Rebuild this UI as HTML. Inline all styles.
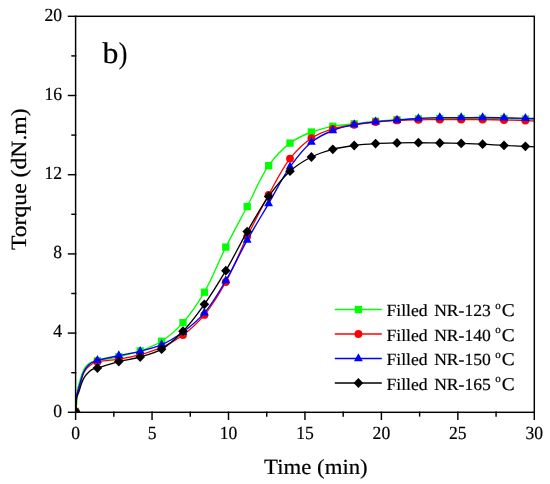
<!DOCTYPE html>
<html><head><meta charset="utf-8"><title>Torque vs Time</title>
<style>html,body{margin:0;padding:0;background:#fff;width:550px;height:484px;overflow:hidden}svg{display:block}</style>
</head><body>
<svg width="550" height="484" viewBox="0 0 550 484" style="text-rendering:geometricPrecision">
<rect width="550" height="484" fill="#fff"/>
<defs><clipPath id="pa"><rect x="75.6" y="16.3" width="458.7" height="396"/></clipPath></defs>
<g clip-path="url(#pa)">
<path fill="none" stroke-width="1.35" stroke="#00ff00" d="M75.60,411.40 C75.97,408.77 76.49,405.84 76.70,403.50 C76.87,401.65 76.83,400.12 76.90,398.50 C76.97,396.96 77.00,395.45 77.10,394.00 C77.20,392.63 77.26,391.40 77.50,390.00 C77.77,388.42 78.25,386.74 78.70,385.00 C79.20,383.09 79.80,380.98 80.40,379.00 C81.00,377.04 81.58,375.04 82.30,373.20 C82.99,371.45 83.67,369.69 84.60,368.20 C85.46,366.81 86.47,365.50 87.60,364.50 C88.65,363.57 89.93,362.80 91.10,362.30 C92.13,361.86 93.16,361.75 94.20,361.50 C95.26,361.25 95.86,361.11 97.40,360.80 C101.37,359.99 111.70,358.44 118.80,356.80 C125.97,355.14 133.17,353.45 140.20,350.90 C147.44,348.28 154.77,345.58 161.60,341.20 C169.10,336.39 176.29,330.04 183.00,322.60 C190.69,314.09 197.72,303.65 204.40,292.20 C212.14,278.93 218.51,261.66 225.80,247.10 C232.79,233.14 240.08,220.06 247.20,206.50 C254.34,192.90 260.61,176.77 268.60,165.60 C275.16,156.44 282.36,148.85 290.00,143.10 C296.74,138.04 304.11,134.82 311.40,132.00 C318.39,129.29 325.62,127.67 332.80,126.30 C339.88,124.95 347.07,124.65 354.20,123.80 C361.33,122.95 368.46,121.90 375.60,121.20 C382.73,120.50 389.86,119.98 397.00,119.60 C404.13,119.22 411.27,119.08 418.40,118.90 C425.53,118.72 432.67,118.58 439.80,118.50 C446.93,118.42 454.07,118.43 461.20,118.40 C468.33,118.38 475.47,118.32 482.60,118.35 C489.73,118.38 496.87,118.48 504.00,118.60 C511.13,118.73 519.81,118.97 525.40,119.10 C529.01,119.18 531.33,119.23 534.30,119.30"/>
<g><rect x="71.95" y="407.75" width="7.3" height="7.3" fill="#00ff00"/><rect x="93.75" y="357.15" width="7.3" height="7.3" fill="#00ff00"/><rect x="115.15" y="353.15" width="7.3" height="7.3" fill="#00ff00"/><rect x="136.55" y="347.25" width="7.3" height="7.3" fill="#00ff00"/><rect x="157.95" y="337.55" width="7.3" height="7.3" fill="#00ff00"/><rect x="179.35" y="318.95" width="7.3" height="7.3" fill="#00ff00"/><rect x="200.75" y="288.55" width="7.3" height="7.3" fill="#00ff00"/><rect x="222.15" y="243.45" width="7.3" height="7.3" fill="#00ff00"/><rect x="243.55" y="202.85" width="7.3" height="7.3" fill="#00ff00"/><rect x="264.95" y="161.95" width="7.3" height="7.3" fill="#00ff00"/><rect x="286.35" y="139.45" width="7.3" height="7.3" fill="#00ff00"/><rect x="307.75" y="128.35" width="7.3" height="7.3" fill="#00ff00"/><rect x="329.15" y="122.65" width="7.3" height="7.3" fill="#00ff00"/><rect x="350.55" y="120.15" width="7.3" height="7.3" fill="#00ff00"/><rect x="371.95" y="117.55" width="7.3" height="7.3" fill="#00ff00"/><rect x="393.35" y="115.95" width="7.3" height="7.3" fill="#00ff00"/><rect x="414.75" y="115.25" width="7.3" height="7.3" fill="#00ff00"/><rect x="436.15" y="114.85" width="7.3" height="7.3" fill="#00ff00"/><rect x="457.55" y="114.75" width="7.3" height="7.3" fill="#00ff00"/><rect x="478.95" y="114.70" width="7.3" height="7.3" fill="#00ff00"/><rect x="500.35" y="114.95" width="7.3" height="7.3" fill="#00ff00"/><rect x="521.75" y="115.45" width="7.3" height="7.3" fill="#00ff00"/></g>
<path fill="none" stroke-width="1.35" stroke="#ff0000" d="M75.60,411.40 C75.70,408.27 75.70,404.61 75.90,402.00 C76.05,400.13 76.24,398.66 76.50,397.20 C76.72,395.96 77.00,394.93 77.30,393.80 C77.60,392.66 77.94,391.64 78.30,390.40 C78.73,388.92 79.21,387.21 79.70,385.50 C80.24,383.62 80.79,381.53 81.40,379.60 C82.00,377.70 82.53,375.72 83.30,374.00 C84.01,372.41 84.86,370.88 85.80,369.60 C86.65,368.45 87.61,367.50 88.60,366.60 C89.55,365.74 90.61,364.97 91.60,364.30 C92.51,363.69 93.34,363.13 94.30,362.70 C95.27,362.26 95.88,362.03 97.40,361.70 C101.31,360.85 111.69,360.38 118.80,359.20 C125.96,358.01 133.12,356.56 140.20,354.60 C147.39,352.61 154.62,350.46 161.60,347.30 C168.90,344.00 176.15,340.08 183.00,335.00 C190.47,329.46 197.71,322.89 204.40,314.90 C212.13,305.66 219.06,294.11 225.80,282.00 C233.43,268.30 239.93,251.26 247.20,236.50 C254.21,222.26 261.27,208.19 268.60,194.90 C275.56,182.28 282.11,168.53 290.00,158.60 C296.61,150.28 303.79,143.25 311.40,138.20 C318.16,133.72 325.54,131.14 332.80,128.90 C339.82,126.73 347.05,125.95 354.20,124.80 C361.32,123.65 368.46,122.73 375.60,122.00 C382.72,121.27 389.86,120.77 397.00,120.40 C404.13,120.03 411.27,119.93 418.40,119.80 C425.53,119.67 432.67,119.65 439.80,119.60 C446.93,119.55 454.07,119.50 461.20,119.50 C468.33,119.50 475.47,119.52 482.60,119.60 C489.73,119.68 496.87,119.85 504.00,120.00 C511.13,120.15 519.81,120.28 525.40,120.50 C529.01,120.64 531.33,120.83 534.30,121.00"/>
<g><circle cx="75.60" cy="411.40" r="3.9" fill="#ff0000"/><circle cx="97.40" cy="361.70" r="3.9" fill="#ff0000"/><circle cx="118.80" cy="359.20" r="3.9" fill="#ff0000"/><circle cx="140.20" cy="354.60" r="3.9" fill="#ff0000"/><circle cx="161.60" cy="347.30" r="3.9" fill="#ff0000"/><circle cx="183.00" cy="335.00" r="3.9" fill="#ff0000"/><circle cx="204.40" cy="314.90" r="3.9" fill="#ff0000"/><circle cx="225.80" cy="282.00" r="3.9" fill="#ff0000"/><circle cx="247.20" cy="236.50" r="3.9" fill="#ff0000"/><circle cx="268.60" cy="194.90" r="3.9" fill="#ff0000"/><circle cx="290.00" cy="158.60" r="3.9" fill="#ff0000"/><circle cx="311.40" cy="138.20" r="3.9" fill="#ff0000"/><circle cx="332.80" cy="128.90" r="3.9" fill="#ff0000"/><circle cx="354.20" cy="124.80" r="3.9" fill="#ff0000"/><circle cx="375.60" cy="122.00" r="3.9" fill="#ff0000"/><circle cx="397.00" cy="120.40" r="3.9" fill="#ff0000"/><circle cx="418.40" cy="119.80" r="3.9" fill="#ff0000"/><circle cx="439.80" cy="119.60" r="3.9" fill="#ff0000"/><circle cx="461.20" cy="119.50" r="3.9" fill="#ff0000"/><circle cx="482.60" cy="119.60" r="3.9" fill="#ff0000"/><circle cx="504.00" cy="120.00" r="3.9" fill="#ff0000"/><circle cx="525.40" cy="120.50" r="3.9" fill="#ff0000"/></g>
<path fill="none" stroke-width="1.35" stroke="#0000ff" d="M75.60,411.40 C75.70,408.27 75.73,404.64 75.90,402.00 C76.03,400.07 76.15,398.51 76.40,397.00 C76.61,395.72 76.90,394.66 77.20,393.50 C77.50,392.33 77.84,391.27 78.20,390.00 C78.63,388.48 79.11,386.74 79.60,385.00 C80.14,383.09 80.70,380.98 81.30,379.00 C81.90,377.04 82.44,374.99 83.20,373.20 C83.90,371.55 84.69,369.98 85.60,368.60 C86.44,367.33 87.38,366.19 88.40,365.20 C89.36,364.27 90.47,363.44 91.50,362.80 C92.40,362.24 93.25,361.89 94.20,361.50 C95.21,361.09 95.84,360.84 97.40,360.40 C101.36,359.27 111.65,357.02 118.80,355.50 C125.92,353.99 133.11,353.08 140.20,351.30 C147.38,349.49 154.64,347.78 161.60,344.70 C168.93,341.45 176.10,337.05 183.00,332.00 C190.41,326.58 197.73,320.61 204.40,312.90 C212.16,303.94 218.94,292.15 225.80,280.60 C233.25,268.06 239.93,253.26 247.20,240.20 C254.20,227.62 261.47,215.81 268.60,203.60 C275.74,191.38 282.33,177.62 290.00,166.90 C296.72,157.50 303.66,148.44 311.40,142.20 C318.08,136.81 325.49,133.44 332.80,130.50 C339.77,127.70 347.02,126.15 354.20,124.70 C361.29,123.27 368.46,122.58 375.60,121.80 C382.72,121.02 389.86,120.55 397.00,120.00 C404.13,119.45 411.26,118.88 418.40,118.50 C425.53,118.12 432.67,117.83 439.80,117.70 C446.93,117.57 454.07,117.73 461.20,117.70 C468.33,117.67 475.47,117.48 482.60,117.50 C489.73,117.52 496.87,117.65 504.00,117.80 C511.13,117.95 519.81,118.29 525.40,118.40 C529.01,118.47 531.33,118.47 534.30,118.50"/>
<g><path d="M75.60,406.07L80.00,414.07L71.20,414.07Z" fill="#0000ff"/><path d="M97.40,355.07L101.80,363.07L93.00,363.07Z" fill="#0000ff"/><path d="M118.80,350.17L123.20,358.17L114.40,358.17Z" fill="#0000ff"/><path d="M140.20,345.97L144.60,353.97L135.80,353.97Z" fill="#0000ff"/><path d="M161.60,339.37L166.00,347.37L157.20,347.37Z" fill="#0000ff"/><path d="M183.00,326.67L187.40,334.67L178.60,334.67Z" fill="#0000ff"/><path d="M204.40,307.57L208.80,315.57L200.00,315.57Z" fill="#0000ff"/><path d="M225.80,275.27L230.20,283.27L221.40,283.27Z" fill="#0000ff"/><path d="M247.20,234.87L251.60,242.87L242.80,242.87Z" fill="#0000ff"/><path d="M268.60,198.27L273.00,206.27L264.20,206.27Z" fill="#0000ff"/><path d="M290.00,161.57L294.40,169.57L285.60,169.57Z" fill="#0000ff"/><path d="M311.40,136.87L315.80,144.87L307.00,144.87Z" fill="#0000ff"/><path d="M332.80,125.17L337.20,133.17L328.40,133.17Z" fill="#0000ff"/><path d="M354.20,119.37L358.60,127.37L349.80,127.37Z" fill="#0000ff"/><path d="M375.60,116.47L380.00,124.47L371.20,124.47Z" fill="#0000ff"/><path d="M397.00,114.67L401.40,122.67L392.60,122.67Z" fill="#0000ff"/><path d="M418.40,113.17L422.80,121.17L414.00,121.17Z" fill="#0000ff"/><path d="M439.80,112.37L444.20,120.37L435.40,120.37Z" fill="#0000ff"/><path d="M461.20,112.37L465.60,120.37L456.80,120.37Z" fill="#0000ff"/><path d="M482.60,112.17L487.00,120.17L478.20,120.17Z" fill="#0000ff"/><path d="M504.00,112.47L508.40,120.47L499.60,120.47Z" fill="#0000ff"/><path d="M525.40,113.07L529.80,121.07L521.00,121.07Z" fill="#0000ff"/></g>
<path fill="none" stroke-width="1.35" stroke="#000000" d="M75.60,411.40 C75.77,408.60 75.87,405.50 76.10,403.00 C76.29,400.97 76.48,398.96 76.80,397.50 C77.02,396.49 77.31,395.80 77.60,395.00 C77.88,394.24 78.20,393.61 78.50,392.80 C78.86,391.82 79.23,390.66 79.60,389.50 C80.00,388.23 80.32,386.93 80.80,385.50 C81.36,383.83 82.01,381.77 82.80,380.10 C83.53,378.55 84.34,377.10 85.30,375.80 C86.22,374.55 87.33,373.41 88.40,372.40 C89.40,371.46 90.46,370.55 91.50,369.90 C92.40,369.33 93.24,368.92 94.20,368.60 C95.20,368.27 95.88,368.37 97.40,368.00 C101.39,367.03 111.63,363.44 118.80,361.60 C125.90,359.78 133.14,359.04 140.20,357.00 C147.41,354.92 154.80,353.14 161.60,349.20 C169.14,344.84 176.20,338.19 183.00,331.20 C190.54,323.45 197.51,313.96 204.40,304.30 C211.82,293.90 218.86,282.44 225.80,270.70 C233.15,258.28 239.92,244.21 247.20,231.60 C254.20,219.48 261.03,206.89 268.60,196.40 C275.38,187.00 282.36,177.99 290.00,171.20 C296.74,165.22 304.04,160.70 311.40,157.00 C318.33,153.52 325.58,151.22 332.80,149.30 C339.85,147.42 347.05,146.45 354.20,145.50 C361.31,144.55 368.46,144.03 375.60,143.60 C382.73,143.17 389.87,143.05 397.00,142.90 C404.13,142.75 411.27,142.68 418.40,142.70 C425.53,142.72 432.67,142.88 439.80,143.00 C446.93,143.12 454.07,143.20 461.20,143.40 C468.33,143.60 475.47,143.87 482.60,144.20 C489.73,144.53 496.87,145.05 504.00,145.40 C511.13,145.75 519.81,145.99 525.40,146.30 C529.01,146.50 531.33,146.70 534.30,146.90"/>
<g><path d="M75.60,406.50L80.40,411.40L75.60,416.30L70.80,411.40Z" fill="#000"/><path d="M97.40,363.10L102.20,368.00L97.40,372.90L92.60,368.00Z" fill="#000"/><path d="M118.80,356.70L123.60,361.60L118.80,366.50L114.00,361.60Z" fill="#000"/><path d="M140.20,352.10L145.00,357.00L140.20,361.90L135.40,357.00Z" fill="#000"/><path d="M161.60,344.30L166.40,349.20L161.60,354.10L156.80,349.20Z" fill="#000"/><path d="M183.00,326.30L187.80,331.20L183.00,336.10L178.20,331.20Z" fill="#000"/><path d="M204.40,299.40L209.20,304.30L204.40,309.20L199.60,304.30Z" fill="#000"/><path d="M225.80,265.80L230.60,270.70L225.80,275.60L221.00,270.70Z" fill="#000"/><path d="M247.20,226.70L252.00,231.60L247.20,236.50L242.40,231.60Z" fill="#000"/><path d="M268.60,191.50L273.40,196.40L268.60,201.30L263.80,196.40Z" fill="#000"/><path d="M290.00,166.30L294.80,171.20L290.00,176.10L285.20,171.20Z" fill="#000"/><path d="M311.40,152.10L316.20,157.00L311.40,161.90L306.60,157.00Z" fill="#000"/><path d="M332.80,144.40L337.60,149.30L332.80,154.20L328.00,149.30Z" fill="#000"/><path d="M354.20,140.60L359.00,145.50L354.20,150.40L349.40,145.50Z" fill="#000"/><path d="M375.60,138.70L380.40,143.60L375.60,148.50L370.80,143.60Z" fill="#000"/><path d="M397.00,138.00L401.80,142.90L397.00,147.80L392.20,142.90Z" fill="#000"/><path d="M418.40,137.80L423.20,142.70L418.40,147.60L413.60,142.70Z" fill="#000"/><path d="M439.80,138.10L444.60,143.00L439.80,147.90L435.00,143.00Z" fill="#000"/><path d="M461.20,138.50L466.00,143.40L461.20,148.30L456.40,143.40Z" fill="#000"/><path d="M482.60,139.30L487.40,144.20L482.60,149.10L477.80,144.20Z" fill="#000"/><path d="M504.00,140.50L508.80,145.40L504.00,150.30L499.20,145.40Z" fill="#000"/><path d="M525.40,141.40L530.20,146.30L525.40,151.20L520.60,146.30Z" fill="#000"/></g>
</g>
<g stroke="#000" stroke-width="1.45" fill="none" stroke-linecap="square">
<rect x="75.6" y="16.3" width="458.7" height="396"/>
<line x1="68.5" y1="412.30" x2="75.6" y2="412.30"/>
<line x1="68.5" y1="333.10" x2="75.6" y2="333.10"/>
<line x1="68.5" y1="253.90" x2="75.6" y2="253.90"/>
<line x1="68.5" y1="174.70" x2="75.6" y2="174.70"/>
<line x1="68.5" y1="95.50" x2="75.6" y2="95.50"/>
<line x1="68.5" y1="16.30" x2="75.6" y2="16.30"/>
<line x1="72" y1="372.70" x2="75.6" y2="372.70"/>
<line x1="72" y1="293.50" x2="75.6" y2="293.50"/>
<line x1="72" y1="214.30" x2="75.6" y2="214.30"/>
<line x1="72" y1="135.10" x2="75.6" y2="135.10"/>
<line x1="72" y1="55.90" x2="75.6" y2="55.90"/>
<line x1="75.60" y1="412.3" x2="75.60" y2="419.3"/>
<line x1="152.05" y1="412.3" x2="152.05" y2="419.3"/>
<line x1="228.50" y1="412.3" x2="228.50" y2="419.3"/>
<line x1="304.95" y1="412.3" x2="304.95" y2="419.3"/>
<line x1="381.40" y1="412.3" x2="381.40" y2="419.3"/>
<line x1="457.85" y1="412.3" x2="457.85" y2="419.3"/>
<line x1="534.30" y1="412.3" x2="534.30" y2="419.3"/>
<line x1="113.82" y1="412.3" x2="113.82" y2="415.9"/>
<line x1="190.27" y1="412.3" x2="190.27" y2="415.9"/>
<line x1="266.73" y1="412.3" x2="266.73" y2="415.9"/>
<line x1="343.17" y1="412.3" x2="343.17" y2="415.9"/>
<line x1="419.62" y1="412.3" x2="419.62" y2="415.9"/>
<line x1="496.07" y1="412.3" x2="496.07" y2="415.9"/>
</g>
<g font-family="Liberation Serif, serif" stroke="#000" stroke-width="0.2" font-size="18.5" fill="#000">
<text transform="translate(62.0,416.60) scale(0.95,1)" text-anchor="end">0</text>
<text transform="translate(62.0,337.40) scale(0.95,1)" text-anchor="end">4</text>
<text transform="translate(62.0,258.20) scale(0.95,1)" text-anchor="end">8</text>
<text transform="translate(62.0,179.00) scale(0.95,1)" text-anchor="end">12</text>
<text transform="translate(62.0,99.80) scale(0.95,1)" text-anchor="end">16</text>
<text transform="translate(62.0,20.60) scale(0.95,1)" text-anchor="end">20</text>
<text transform="translate(75.60,438.5) scale(0.95,1)" text-anchor="middle">0</text>
<text transform="translate(152.05,438.5) scale(0.95,1)" text-anchor="middle">5</text>
<text transform="translate(228.50,438.5) scale(0.95,1)" text-anchor="middle">10</text>
<text transform="translate(304.95,438.5) scale(0.95,1)" text-anchor="middle">15</text>
<text transform="translate(381.40,438.5) scale(0.95,1)" text-anchor="middle">20</text>
<text transform="translate(457.85,438.5) scale(0.95,1)" text-anchor="middle">25</text>
<text transform="translate(534.30,438.5) scale(0.95,1)" text-anchor="middle">30</text>
</g>
<text font-family="Liberation Serif, serif" stroke="#000" stroke-width="0.2" font-size="21.6" x="264.1" y="474.3" textLength="103.6" lengthAdjust="spacingAndGlyphs">Time (min)</text>
<text font-family="Liberation Serif, serif" stroke="#000" stroke-width="0.2" font-size="21.8" transform="translate(25.5,250.1) rotate(-90)" textLength="141.8" lengthAdjust="spacingAndGlyphs">Torque (dN.m)</text>
<text font-family="Liberation Serif, serif" stroke="#000" stroke-width="0.2" font-size="30" y="62.6"><tspan x="102.5" textLength="15.9" lengthAdjust="spacingAndGlyphs">b</tspan><tspan x="118.83" textLength="8.65" lengthAdjust="spacingAndGlyphs">)</tspan></text>
<line x1="334.8" y1="309.50" x2="381.8" y2="309.50" stroke="#00ff00" stroke-width="1.3"/>
<rect x="354.75" y="305.85" width="7.3" height="7.3" fill="#00ff00"/>
<text font-family="Liberation Serif, serif" stroke="#000" stroke-width="0.2" font-size="17" x="386.48" y="316.20" textLength="41.2" lengthAdjust="spacingAndGlyphs">Filled</text>
<text font-family="Liberation Serif, serif" stroke="#000" stroke-width="0.2" font-size="17" x="434.18" y="316.20" textLength="56.6" lengthAdjust="spacingAndGlyphs">NR-123</text>
<text font-family="Liberation Serif, serif" stroke="#000" stroke-width="0.2" font-size="11" x="495.3" y="308.90">o</text>
<text font-family="Liberation Serif, serif" stroke="#000" stroke-width="0.2" font-size="18" x="501.75" y="316.20" textLength="12.94" lengthAdjust="spacingAndGlyphs">C</text>
<line x1="334.8" y1="334.00" x2="381.8" y2="334.00" stroke="#ff0000" stroke-width="1.3"/>
<circle cx="358.40" cy="334.00" r="3.9" fill="#ff0000"/>
<text font-family="Liberation Serif, serif" stroke="#000" stroke-width="0.2" font-size="17" x="386.48" y="340.70" textLength="41.2" lengthAdjust="spacingAndGlyphs">Filled</text>
<text font-family="Liberation Serif, serif" stroke="#000" stroke-width="0.2" font-size="17" x="434.18" y="340.70" textLength="56.6" lengthAdjust="spacingAndGlyphs">NR-140</text>
<text font-family="Liberation Serif, serif" stroke="#000" stroke-width="0.2" font-size="11" x="495.3" y="333.40">o</text>
<text font-family="Liberation Serif, serif" stroke="#000" stroke-width="0.2" font-size="18" x="501.75" y="340.70" textLength="12.94" lengthAdjust="spacingAndGlyphs">C</text>
<line x1="334.8" y1="358.50" x2="381.8" y2="358.50" stroke="#0000ff" stroke-width="1.3"/>
<path d="M358.40,353.17L362.80,361.17L354.00,361.17Z" fill="#0000ff"/>
<text font-family="Liberation Serif, serif" stroke="#000" stroke-width="0.2" font-size="17" x="386.48" y="365.20" textLength="41.2" lengthAdjust="spacingAndGlyphs">Filled</text>
<text font-family="Liberation Serif, serif" stroke="#000" stroke-width="0.2" font-size="17" x="434.18" y="365.20" textLength="56.6" lengthAdjust="spacingAndGlyphs">NR-150</text>
<text font-family="Liberation Serif, serif" stroke="#000" stroke-width="0.2" font-size="11" x="495.3" y="357.90">o</text>
<text font-family="Liberation Serif, serif" stroke="#000" stroke-width="0.2" font-size="18" x="501.75" y="365.20" textLength="12.94" lengthAdjust="spacingAndGlyphs">C</text>
<line x1="334.8" y1="383.00" x2="381.8" y2="383.00" stroke="#000000" stroke-width="1.3"/>
<path d="M358.40,378.10L363.20,383.00L358.40,387.90L353.60,383.00Z" fill="#000"/>
<text font-family="Liberation Serif, serif" stroke="#000" stroke-width="0.2" font-size="17" x="386.48" y="389.70" textLength="41.2" lengthAdjust="spacingAndGlyphs">Filled</text>
<text font-family="Liberation Serif, serif" stroke="#000" stroke-width="0.2" font-size="17" x="434.18" y="389.70" textLength="56.6" lengthAdjust="spacingAndGlyphs">NR-165</text>
<text font-family="Liberation Serif, serif" stroke="#000" stroke-width="0.2" font-size="11" x="495.3" y="382.40">o</text>
<text font-family="Liberation Serif, serif" stroke="#000" stroke-width="0.2" font-size="18" x="501.75" y="389.70" textLength="12.94" lengthAdjust="spacingAndGlyphs">C</text>
</svg>
</body></html>
